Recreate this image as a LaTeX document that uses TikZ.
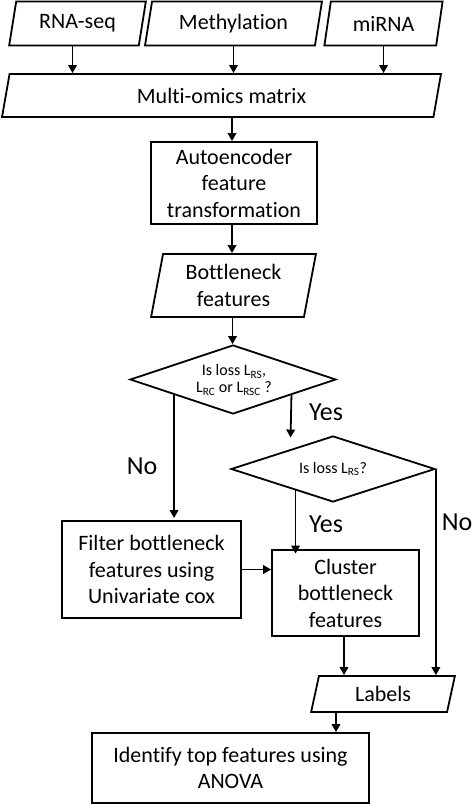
\documentclass[tikz,border=0pt]{standalone}
\usepackage{fontspec}
\setmainfont{Carlito}[Ligatures={NoCommon}]
\usetikzlibrary{shapes.geometric,arrows.meta}
\newcommand{\mysub}[1]{\textsubscript{#1}}
\begin{document}
\begin{tikzpicture}[x=1pt,y=-1pt,
  every node/.style={font=\fontsize{22}{26.5}\selectfont, align=center, inner sep=0pt},
  box/.style={draw, line width=1.8pt, rectangle},
  para/.style={draw, line width=1.8pt, trapezium, trapezium left angle=#1, trapezium right angle={180-#1}, trapezium stretches=true},
  dia/.style={draw, line width=1.8pt, diamond},
  diatext/.style={font=\fontsize{16}{17}\selectfont},
  yn/.style={font=\fontsize{26}{28}\selectfont},
  arr/.style={line width=1.8pt, -{Triangle[length=8pt,width=8.5pt]}},
  ]
\useasboundingbox (0,0) rectangle (474,805);
% nodes
\node[para=76, minimum width=137pt, minimum height=44pt] (rna) at (77.5,23.5) {RNA-seq};
\node[para=76, minimum width=177pt, minimum height=44pt] (meth) at (233.5,23.5) {Methylation};
\node[para=76, minimum width=119pt, minimum height=44pt] (mirna) at (383.5,23.5) {miRNA};
\node[para=79, minimum width=439pt, minimum height=43pt] (multi) at (221.5,95.5) {Multi-omics matrix};
\node[box, minimum width=166pt, minimum height=82pt] (auto) at (234,183) {Autoencoder\\feature\\transformation};
\node[para=79, minimum width=165pt, minimum height=63pt] (bott) at (233.5,285.5) {Bottleneck\\features};
\node[dia, minimum width=206pt, minimum height=69pt] (d1) at (233,379.5) {};
\node[diatext] (d1t) at (234,380) {Is loss L\mysub{RS},\\L\mysub{RC} or L\mysub{RSC} ?};
\node[dia, minimum width=204pt, minimum height=66pt] (d2) at (333,469) {};
\node[diatext] (d2t) at (333,469) {Is loss L\mysub{RS}?};
\node[box, minimum width=179pt, minimum height=97pt] (filter) at (151.5,569.5) {Filter bottleneck\\features using\\Univariate cox};
\node[box, minimum width=147pt, minimum height=86pt] (cluster) at (345.5,593) {Cluster\\bottleneck\\features};
\node[para=77.5, minimum width=144pt, minimum height=36pt] (labels) at (383,694) {Labels};
\node[box, minimum width=277pt, minimum height=70pt] (ident) at (230.5,768) {Identify top features using\\ANOVA};
% labels
\node[yn] (no1) at (142,466) {No};
\node[yn] (yes1) at (326,412) {Yes};
\node[yn] (yes2) at (326,524) {Yes};
\node[yn] (no2) at (457,522) {No};
% connectors
\draw[arr] ([xshift=-5pt]rna.south) -- ([xshift=-5pt]rna.south |- multi.north);
\draw[arr] (meth.south) -- (meth.south |- multi.north);
\draw[arr] (mirna.south) -- (mirna.south |- multi.north);
\draw[arr] ([xshift=-2pt]auto.north |- multi.south) -- ([xshift=-2pt]auto.north);
\draw[arr] ([xshift=-2pt]auto.south) -- ([xshift=-2pt]auto.south |- bott.north);
\draw[arr] ([xshift=-1pt]bott.south) -- ([xshift=-1pt]bott.south |- d1.north);
\draw[arr] ([xshift=-7pt,yshift=2pt]d1.south west) -- ([xshift=-7pt,yshift=2pt]d1.south west |- filter.north);
\coordinate (yesend) at ([xshift=9pt,yshift=14.5pt]d2.north west);
\draw[arr] ([xshift=6.5pt,yshift=2pt]d1.south east) -- (yesend);
\draw[arr] ([xshift=14pt,yshift=-4.5pt]d2.south west) -- ([xshift=14pt,yshift=-4.5pt]d2.south west |- cluster.north);
\draw[arr] (d2.east) -- (d2.east |- labels.north);
\draw[arr] (filter.east) -- (filter.east -| cluster.west);
\draw[arr] ([xshift=-1.5pt]cluster.south) -- ([xshift=-1.5pt]cluster.south |- labels.north);
\draw[arr] ([xshift=-47pt]labels.south) -- ([xshift=-47pt]labels.south |- ident.north);
\end{tikzpicture}
\end{document}
